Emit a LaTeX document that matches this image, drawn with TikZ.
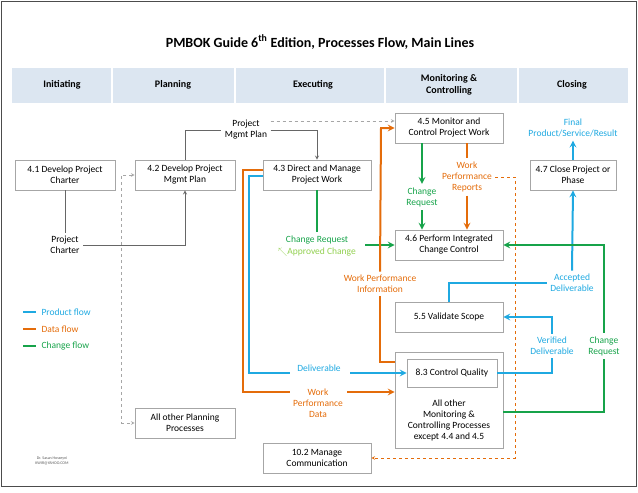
\documentclass[tikz,border=0pt]{standalone}
\usepackage{fontspec}
\setmainfont{Carlito}
\usetikzlibrary{arrows}
\definecolor{prod}{HTML}{1FA9E1}
\definecolor{dat}{HTML}{E46C0A}
\definecolor{chg}{HTML}{17A34A}
\definecolor{apg}{HTML}{92D050}
\definecolor{band}{HTML}{DCE6F1}
\tikzset{
  proc/.style={draw=gray!70, line width=0.8pt, minimum width=108pt, minimum height=30pt, align=center, font=\fontsize{9.5}{11}\selectfont},
  lbl/.style={align=center, font=\fontsize{9.5}{11}\selectfont},
  plan/.style={gray!80!black, line width=0.8pt},
  gdash/.style={gray!70, dashed, line width=0.6pt},
  prodf/.style={prod, line width=2pt},
  dataf/.style={dat, line width=2pt},
  chgf/.style={chg, line width=2pt},
}
\begin{document}
\begin{tikzpicture}[x=1pt,y=-1pt,>=stealth]
\useasboundingbox (0,0) rectangle (638,493);
\draw[gray!60!black, line width=1pt] (1,1) rectangle (636,486);
% title and phases
\node[font=\fontsize{14}{16}\selectfont\bfseries] (title) at (320,42) {PMBOK Guide 6\textsuperscript{th} Edition, Processes Flow, Main Lines};
\fill[band] (12,68) rectangle (628,103);
\foreach \x in {112,235,385,518} \draw[white, line width=1.5pt] (\x,68) -- (\x,103);
\node[lbl, font=\fontsize{10}{12}\selectfont\bfseries] (ini) at (62,85) {Initiating};
\node[lbl, font=\fontsize{10}{12}\selectfont\bfseries] (pla) at (173,85) {Planning};
\node[lbl, font=\fontsize{10}{12}\selectfont\bfseries] (exe) at (313,85) {Executing};
\node[lbl, font=\fontsize{10}{12}\selectfont\bfseries] (mon) at (449,85) {Monitoring \&\\Controlling};
\node[lbl, font=\fontsize{10}{12}\selectfont\bfseries] (clo) at (572,85) {Closing};
% processes
\node[proc, minimum width=100pt] (dc) at (65,175) {4.1 Develop Project\\Charter};
\node[proc, minimum width=100pt] (dp) at (185,175) {4.2 Develop Project\\Mgmt Plan};
\node[proc] (dm) at (317,175) {4.3 Direct and Manage\\Project Work};
\node[proc] (mc) at (449,128) {4.5 Monitor and\\Control Project Work};
\node[proc, minimum width=86pt] (cp) at (573,175) {4.7 Close Project or\\Phase};
\node[proc] (ic) at (449,245) {4.6 Perform Integrated\\Change Control};
\node[proc] (vs) at (449,317) {5.5 Validate Scope};
\node[proc, minimum height=96pt] (om) at (449,400) {};
\node[proc, minimum width=90pt, minimum height=28pt] (cq) at (452,373) {8.3 Control Quality};
\node[lbl] (omt) at (449,420) {All other\\Monitoring \&\\Controlling Processes\\except 4.4 and 4.5};
\node[proc, minimum width=100pt] (ap) at (185,423) {All other Planning\\Processes};
\node[proc] (cm) at (317,458) {10.2 Manage\\Communication};
% labels
\node[lbl] (pmp) at (246,130) {Project\\Mgmt Plan};
\node[lbl] (pc) at (65,245) {Project\\Charter};
\node[lbl, text=chg] (cr1) at (317,240) {Change Request};
\node[lbl, text=apg] (ac) at (317,252) {$\nwarrow$Approved Change};
\node[lbl, text=chg] (cr2) at (422,197) {Change\\Request};
\node[lbl, text=dat] (wpr) at (467,177) {Work\\Performance\\Reports};
\node[lbl, text=dat] (wpi) at (380,284) {Work Performance\\Information};
\node[lbl, text=prod] (fp) at (573,128) {Final\\Product/Service/Result};
\node[lbl, text=prod] (ad) at (572,283) {Accepted\\Deliverable};
\node[lbl, text=prod] (vd) at (552,346) {Verified\\Deliverable};
\node[lbl, text=chg] (cr3) at (604,346) {Change\\Request};
\node[lbl, text=prod] (dl) at (319,368) {Deliverable};
\node[lbl, text=dat] (wpd) at (318,403) {Work\\Performance\\Data};
% planning lines
\draw[plan] (dp.north) |- (pmp.west);
\draw[plan,->] (pmp.east) -| (dm.north);
\draw[plan] (dc.south) -- (pc.north);
\draw[plan,->] (pc.east) -| (dp.south);
\draw[gdash,->] ([yshift=9pt]pmp.east) -- ([yshift=7pt]mc.west);
\draw[gdash,stealth-stealth] (dp.west) -- ++(-13,0) |- (ap.west);
% executing lines
\draw[dataf] ([yshift=5pt]dm.west) -| (243,392) -- (290,392);
\draw[dataf,->] (347,392) -- (om.west |- 0,392);
\draw[prodf] ([yshift=-1pt]dm.west) -| (249,373) -- (290,373);
\draw[prodf,->] (350,373) -- (cq.west);
\draw[chgf] (dm.south) -- (cr1.north);
\draw[chgf,->] (365,245) -- (ic.west);
% monitoring lines
\draw[dataf,->] (wpi.north) -- (381,128) -- (mc.west);
\draw[dataf] (wpi.south) |- (om.west |- 0,362);
\draw[chgf,->] (mc.south -| cr2) -- (cr2.north);
\draw[chgf,->] (cr2.south) -- (ic.north -| cr2);
\draw[dataf] (mc.south -| wpr) -- (wpr.north);
\draw[dataf,->] (wpr.south) -- (ic.north -| wpr);
\draw[dat, dashed, line width=0.6pt,->] (wpr.east) -| (515,458) -- (cm.east);
% closing lines
\draw[prodf,->] (cp.north) -- (fp.south);
\draw[prodf,->] (ad.north) -- (cp.south);
\draw[prodf] (ad.west) -| (vs.north);
\draw[prodf] (cq.east) -| (vd.south);
\draw[prodf,->] (vd.north) |- (vs.east);
\draw[chgf] ([yshift=-12pt]om.east) -| (cr3.south);
\draw[chgf,->] (cr3.north) |- (ic.east);
% legend
\foreach \y/\c/\t [count=\i] in {312/prod/Product flow, 329/dat/Data flow, 346/chg/Change flow} {
  \draw[\c, line width=2pt] (23,\y) -- (36,\y);
  \node[lbl, anchor=west, text=\c] (lg\i) at (38,\y) {\t};
}
\node[align=center, font=\fontsize{4}{5}\selectfont, text=gray!70!black] (au) at (52,461) {Dr. Sasan Hosseyni\\KWIR@YAHOO.COM};
\end{tikzpicture}
\end{document}
